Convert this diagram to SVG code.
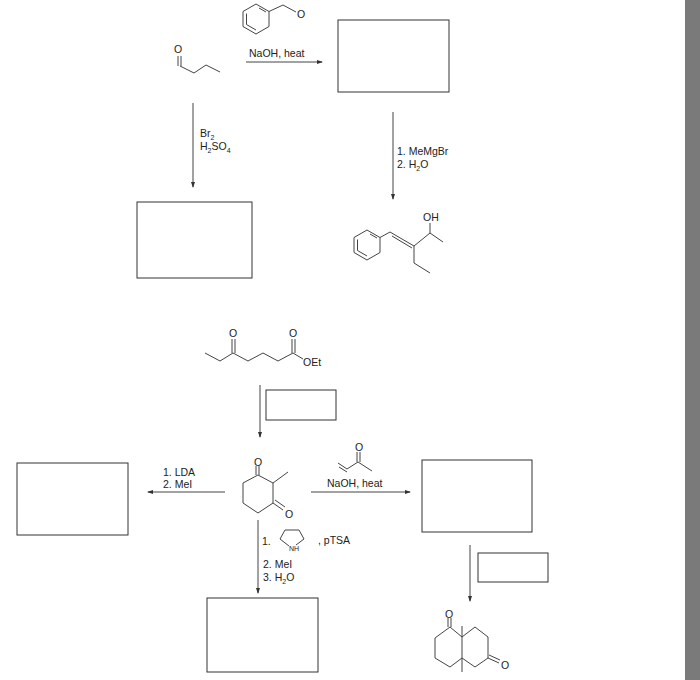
<svg xmlns="http://www.w3.org/2000/svg" width="700" height="680" viewBox="0 0 700 680">
<defs><marker id="ah" markerWidth="6" markerHeight="6" refX="5" refY="3" orient="auto" markerUnits="userSpaceOnUse"><path d="M0,1 L6,3 L0,5 Z" fill="#333"/></marker></defs>
<style>
.b{fill:none;stroke:#444;stroke-width:1}
.box{fill:#fff;stroke:#333;stroke-width:1}
.c{stroke:#444;stroke-width:1;fill:none;marker-end:url(#ah)}
text{font-family:"Liberation Sans",Arial,sans-serif;font-size:10.5px;fill:#222}
.s{font-size:7px}
</style>
<rect width="700" height="680" fill="#fff"/>
<rect x="685" y="0" width="15" height="680" fill="#7a7a7a"/>
<g id="benzaldehyde"><polygon class="b" points="256,4 269,11.5 269,26.5 256,34 243,26.5 243,11.5"/><polyline class="b" points="246.5,13.5 246.5,24.5 256,30"/><line class="b" x1="259" y1="8" x2="266" y2="12"/><polyline class="b" points="269,11.5 283,5 296,12"/><text x="297" y="18">O</text></g>
<g id="butanal"><text x="174" y="53">O</text><line class="b" x1="178" y1="56" x2="178" y2="66"/><line class="b" x1="181" y1="56" x2="181" y2="66"/><polyline class="b" points="180,66 194,73 206,65 220,72"/></g>
<g id="connectors">
<line class="c" x1="246" y1="62" x2="322" y2="62"/>
<line class="c" x1="193" y1="103" x2="193" y2="187"/>
<line class="c" x1="393" y1="112" x2="393" y2="199"/>
<line class="c" x1="260" y1="385" x2="260" y2="437"/>
<line class="c" x1="225" y1="492" x2="148" y2="492"/>
<line class="c" x1="311" y1="492" x2="410" y2="492"/>
<line class="c" x1="258" y1="520" x2="258" y2="593"/>
<line class="c" x1="470" y1="545" x2="470" y2="601"/>
</g>
<text x="249" y="57">NaOH, heat</text>
<g id="box1"><rect class="box" x="338" y="20" width="111" height="72"/></g>
<text x="200" y="137">Br<tspan class="s" dy="3">2</tspan></text>
<text x="200" y="150">H<tspan class="s" dy="3">2</tspan><tspan dy="-3">SO</tspan><tspan class="s" dy="3">4</tspan></text>
<g id="box2"><rect class="box" x="137" y="202" width="115" height="76"/></g>
<text x="397" y="155">1. MeMgBr</text>
<text x="397" y="168">2. H<tspan class="s" dy="3">2</tspan><tspan dy="-3">O</tspan></text>
<g id="allylic-alcohol"><polygon class="b" points="367,230 380,237.5 380,252.5 367,260 354,252.5 354,237.5"/><polyline class="b" points="357.5,239.5 357.5,250.5 367,256"/><line class="b" x1="370" y1="234" x2="377" y2="238"/><polyline class="b" points="380,237.5 390,232 414,246 430,233 443,242"/><line class="b" x1="392" y1="236" x2="412" y2="248"/><polyline class="b" points="414,246 414,263 430,273"/><line class="b" x1="430" y1="233" x2="430" y2="223"/><text x="423" y="221">OH</text></g>
<g id="ketoester"><polyline class="b" points="205,353 220,361 233,353 248,361 263,353 278,361 293,353 303,359"/><line class="b" x1="232" y1="339" x2="232" y2="353"/><line class="b" x1="235" y1="339" x2="235" y2="353"/><line class="b" x1="292" y1="339" x2="292" y2="353"/><line class="b" x1="295" y1="339" x2="295" y2="353"/><text x="229" y="337">O</text><text x="289" y="337">O</text><text x="303" y="366">OEt</text></g>
<g id="box3"><rect class="box" x="266" y="390" width="70" height="30"/></g>
<g id="dione"><polygon class="b" points="258,475 273,483 273,503 258,513 243,503 243,483"/><line class="b" x1="256" y1="466" x2="256" y2="475"/><line class="b" x1="259" y1="466" x2="259" y2="475"/><text x="254" y="466">O</text><line class="b" x1="273" y1="483" x2="288" y2="472"/><line class="b" x1="273" y1="503" x2="283" y2="510"/><line class="b" x1="275" y1="500" x2="285" y2="507"/><text x="285" y="518">O</text></g>
<text x="163" y="476">1. LDA</text><text x="163" y="488">2. MeI</text>
<g id="box4"><rect class="box" x="17" y="463" width="111" height="72"/></g>
<g id="mvk"><polyline class="b" points="338,463 347,469 358,462 372,471"/><line class="b" x1="339" y1="467" x2="347" y2="472"/><line class="b" x1="357" y1="452" x2="357" y2="462"/><line class="b" x1="360" y1="452" x2="360" y2="462"/><text x="355" y="451">O</text></g>
<text x="327" y="487">NaOH, heat</text>
<g id="box5"><rect class="box" x="422" y="460" width="110" height="72"/></g>
<text x="262" y="545">1.</text>
<g id="pyrrolidine"><polyline class="b" points="296,545 304,539 299,530 285,530 280,539 289,546"/><text x="289" y="551" class="s">NH</text></g>
<text x="318" y="544">, pTSA</text>
<text x="263" y="568">2. MeI</text>
<text x="263" y="581">3. H<tspan class="s" dy="3">2</tspan><tspan dy="-3">O</tspan></text>
<g id="box6"><rect class="box" x="207" y="598" width="111" height="74"/></g>
<g id="box7"><rect class="box" x="478" y="553" width="70" height="29"/></g>
<g id="decalindione"><polygon class="b" points="450,627 462,637 462,658 450,667 435,658 435,638"/><polyline class="b" points="462,637 475,627 488,637 488,658 475,667 462,658"/><line class="b" x1="462" y1="637" x2="462" y2="626"/><line class="b" x1="462" y1="658" x2="462" y2="672"/><line class="b" x1="448" y1="618" x2="448" y2="627"/><line class="b" x1="451" y1="618" x2="451" y2="627"/><text x="445" y="618">O</text><line class="b" x1="488" y1="658" x2="499" y2="663"/><line class="b" x1="489" y1="655" x2="500" y2="660"/><text x="501" y="669">O</text></g>
</svg>
